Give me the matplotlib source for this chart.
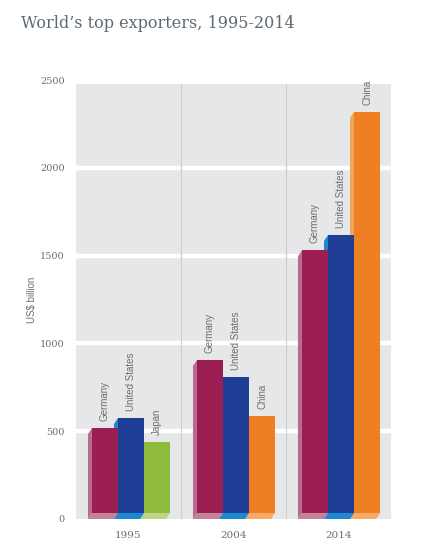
import matplotlib
matplotlib.use('Agg')
import matplotlib.pyplot as plt
from matplotlib.patches import Polygon, Rectangle

# ---- data ----
years = ['1995', '2004', '2014']
countries_1995 = ['Germany', 'United States', 'Japan']
countries_2004 = ['Germany', 'United States', 'China']
countries_2014 = ['Germany', 'United States', 'China']
values_1995 = [518, 575, 438]
values_2004 = [905, 808, 587]
values_2014 = [1530, 1617, 2318]
yticks = [0, 500, 1000, 1500, 2000, 2500]

groups = [(countries_1995, values_1995),
          (countries_2004, values_2004),
          (countries_2014, values_2014)]

# ---- style ----
front = {'Germany': '#9b1d52', 'United States': '#1f3e96',
         'Japan': '#8fbb3d', 'China': '#ef7f23'}
side = {'Germany': '#b96b8b', 'United States': '#1b88d1',
        'Japan': '#b3d07a', 'China': '#f4a35a'}
bottom = {'Germany': '#c4819c', 'United States': '#1b88d1',
          'Japan': '#bcd685', 'China': '#f5aa66'}
txt = '#6d6e71'

fig = plt.figure(figsize=(4.35, 5.53), dpi=100)
ax = fig.add_axes([76 / 435, 34 / 553, 315 / 435, 439 / 553])
ax.set_xlim(0, 3)
ax.set_ylim(0, 2500)
ax.set_facecolor('none')

ax.add_patch(Rectangle((0, 0), 3, 2478, fc='#e6e7e8', ec='none', zorder=0))
for yv in yticks[1:-1]:
    ax.plot([0, 3], [yv, yv], color='white', lw=3.2, zorder=1,
            solid_capstyle='butt')
for xv in [1, 2]:
    ax.plot([xv, xv], [0, 2478], color='#cdced0', lw=0.8, zorder=1.5)

w = 0.248
dx = 0.038
dy = 34
offset = 0.114

for g, (names, vals) in enumerate(groups):
    for i in reversed(range(len(names))):
        name, v = names[i], vals[i]
        x0 = g + offset + i * w
        x1 = x0 + w
        ax.add_patch(Polygon([(x0, 0), (x1, 0), (x1 + dx, dy), (x0 + dx, dy)],
                             closed=True, fc=bottom[name], ec='none', zorder=3))
        ax.add_patch(Polygon([(x0, 0), (x0 + dx, dy), (x0 + dx, v), (x0, v - dy)],
                             closed=True, fc=side[name], ec='none', zorder=3))
        ax.add_patch(Rectangle((x0 + dx, dy), w, v - dy, fc=front[name],
                               ec='none', zorder=3))
        ax.text(x0 + dx + w / 2, v + 40, name, rotation=90, ha='center',
                va='bottom', fontsize=7, color=txt, family='Liberation Sans',
                zorder=4, clip_on=False)

ax.set_yticks(yticks)
ax.set_yticklabels([str(t) for t in yticks], family='DejaVu Serif',
                   fontsize=7, color=txt)
ax.set_xticks([0.5, 1.5, 2.5])
ax.set_xticklabels(years, family='DejaVu Serif', fontsize=7.5, color=txt)
ax.tick_params(axis='y', length=0, pad=8)
ax.tick_params(axis='x', length=0, pad=9)
for s in ax.spines.values():
    s.set_visible(False)

fig.text(32 / 435, 1 - 300 / 553, 'US$ billion', rotation=90, ha='center',
         va='center', fontsize=7, color=txt, family='Liberation Sans')
fig.text(21 / 435, 1 - 24 / 553, "World\u2019s top exporters, 1995-2014",
         ha='left', va='center', fontsize=11.5, color='#5d6a73',
         family='DejaVu Serif')

fig.savefig('out.png', dpi=100)
